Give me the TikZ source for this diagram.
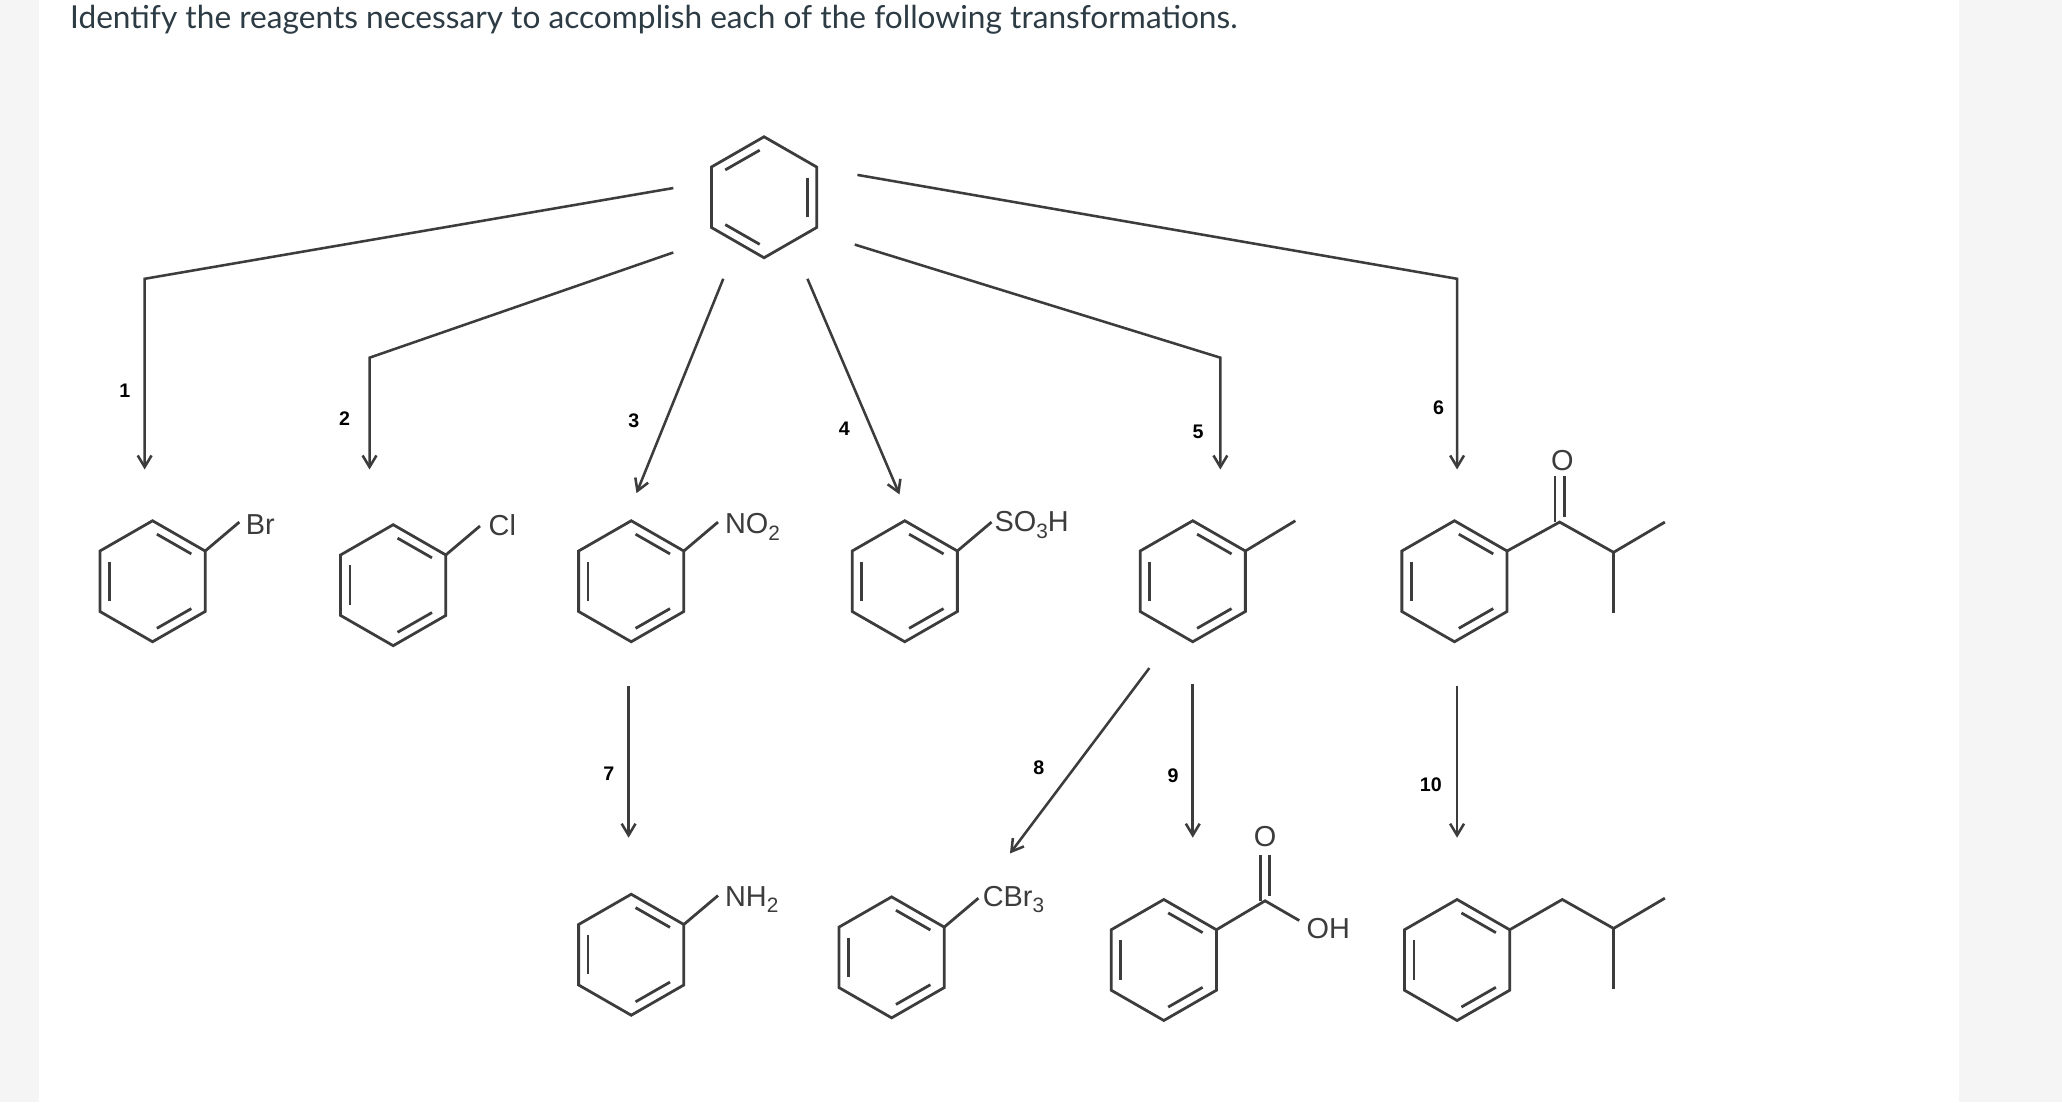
\documentclass[tikz,border=0pt]{standalone}
\usepackage{fontspec}
\setmainfont{Liberation Sans}
\newfontfamily\titlefont{Lato}
\usetikzlibrary{arrows.meta,calc}
\definecolor{ink}{HTML}{3C3C3C}
\definecolor{pagegray}{HTML}{F5F5F6}
\definecolor{titlecol}{HTML}{2D3B45}
\tikzset{
  bond/.style={draw=ink,line width=1.2pt,line join=miter},
  rxn/.style={draw=ink,line width=1.1pt,-{Straight Barb[length=5pt,width=6pt]}},
  lab/.style={text=ink,font=\fontsize{12.5}{14}\selectfont,inner sep=0pt},
  num/.style={text=black,font=\bfseries\fontsize{8.5}{10}\selectfont,inner sep=0pt},
}
\newcommand{\sbs}[1]{\raisebox{-0.45ex}{\fontsize{9}{10}\selectfont #1}}
\newcommand{\prodring}[2]{%
  \coordinate (#1) at #2;
  \begin{scope}[shift={#2}]
    \draw[bond] (0,-46) -- (40,-23) -- (40,23) -- (0,46) -- (-40,23) -- (-40,-23) -- cycle;
    \draw[bond] (3.3,-35.8) -- (29.5,-20.8);
    \draw[bond] (-32.8,-15) -- (-32.8,15);
    \draw[bond] (29.5,20.8) -- (3.3,35.8);
  \end{scope}}
\begin{document}
\begin{tikzpicture}[x=0.02cm,y=-0.02cm]
\fill[pagegray] (0,0) rectangle (1568,838);
\fill[white] (30,0) rectangle (1490,838);
\useasboundingbox (0,0) rectangle (1568,838);
\node[anchor=west,text=titlecol,font=\titlefont\fontsize{13.7}{16}\selectfont,inner sep=0pt] (title) at (53,15) {Identify the reagents necessary to accomplish each of the following transformations.};
% top benzene
\coordinate (top) at (581,150);
\begin{scope}[shift={(581,150)}]
  \draw[bond] (0,-46) -- (40,-23) -- (40,23) -- (0,46) -- (-40,23) -- (-40,-23) -- cycle;
  \draw[bond] (-29.5,-20.8) -- (-3.3,-35.8);
  \draw[bond] (32.8,-15) -- (32.8,15);
  \draw[bond] (-3.3,35.8) -- (-29.5,20.8);
\end{scope}
% products row 1
\prodring{r1}{(116,442)}
\draw[bond] ($(r1)+(40,-23)$) -- ++(26,-22);
\node[lab] (br) at (198,399) {Br};
\prodring{r2}{(299,445)}
\draw[bond] ($(r2)+(40,-23)$) -- ++(26,-22);
\node[lab] (cl) at (382,399) {Cl};
\prodring{r3}{(480,442)}
\draw[bond] ($(r3)+(40,-23)$) -- ++(26,-22);
\node[lab,anchor=west] (no2) at (551,401) {NO\sbs{2}};
\prodring{r4}{(688,442)}
\draw[bond] ($(r4)+(40,-23)$) -- ++(26,-22);
\node[lab,anchor=west] (so3h) at (756,399) {SO\sbs{3}H};
\prodring{r5}{(907,442)}
\draw[bond] ($(r5)+(40,-23)$) -- ++(38,-23);
\prodring{r6}{(1106,442)}
\coordinate (c6) at (1186,397);
\coordinate (ch6) at (1227,420);
\draw[bond] ($(r6)+(40,-23)$) -- (c6) -- (ch6) -- ++(39,-23);
\draw[bond] (ch6) -- ++(0,46);
\draw[bond] ($(c6)+(-3.5,0)$) -- ++(0,-35);
\draw[bond] ($(c6)+(3.5,-4)$) -- ++(0,-31);
\node[lab] (o6) at (1188,350) {O};
% products row 2
\prodring{r7}{(480,726)}
\draw[bond] ($(r7)+(40,-23)$) -- ++(26,-22);
\node[lab,anchor=west] (nh2) at (551,684) {NH\sbs{2}};
\prodring{r8}{(678,728)}
\draw[bond] ($(r8)+(40,-23)$) -- ++(26,-22);
\node[lab,anchor=west] (cbr3) at (747,684) {CBr\sbs{3}};
\prodring{r9}{(885,730)}
\coordinate (c9) at (962,685);
\draw[bond] ($(r9)+(40,-23)$) -- (c9) -- ++(26,15);
\draw[bond] ($(c9)+(-3.5,0)$) -- ++(0,-35);
\draw[bond] ($(c9)+(3.5,-4)$) -- ++(0,-31);
\node[lab] (o9) at (962,636) {O};
\node[lab] (oh9) at (1010,706) {OH};
\prodring{r10}{(1108,730)}
\coordinate (a10) at (1188,684);
\coordinate (b10) at (1227,706);
\draw[bond] ($(r10)+(40,-23)$) -- (a10) -- (b10) -- ++(39,-23);
\draw[bond] (b10) -- ++(0,46);
% reaction arrows
\coordinate (s1) at (512,143); \coordinate (k1) at (110,212); \coordinate (e1) at (110,357);
\draw[rxn] (s1) -- (k1) -- (e1);
\node[num] (n1) at (95,297) {1};
\coordinate (s2) at (512,192); \coordinate (k2) at (281,272); \coordinate (e2) at (281,357);
\draw[rxn] (s2) -- (k2) -- (e2);
\node[num] (n2) at (262,318) {2};
\coordinate (s3) at (550,212); \coordinate (e3) at (484,375);
\draw[rxn] (s3) -- (e3);
\node[num] (n3) at (482,320) {3};
\coordinate (s4) at (614,212); \coordinate (e4) at (684,376);
\draw[rxn] (s4) -- (e4);
\node[num] (n4) at (642,326) {4};
\coordinate (s5) at (650,186); \coordinate (k5) at (928,272); \coordinate (e5) at (928,357);
\draw[rxn] (s5) -- (k5) -- (e5);
\node[num] (n5) at (911,328) {5};
\coordinate (s6) at (652,133); \coordinate (k6) at (1108,212); \coordinate (e6) at (1108,357);
\draw[rxn] (s6) -- (k6) -- (e6);
\node[num] (n6) at (1094,310) {6};
\coordinate (s7) at (478,522); \coordinate (e7) at (478,637);
\draw[rxn] (s7) -- (e7);
\node[num] (n7) at (463,588) {7};
\coordinate (s8) at (874,508); \coordinate (e8) at (768,649);
\draw[rxn] (s8) -- (e8);
\node[num] (n8) at (790,584) {8};
\coordinate (s9) at (907,520); \coordinate (e9) at (907,637);
\draw[rxn] (s9) -- (e9);
\node[num] (n9) at (892,590) {9};
\coordinate (s10) at (1108,522); \coordinate (e10) at (1108,637);
\draw[rxn] (s10) -- (e10);
\node[num] (n10) at (1088,597) {10};
\end{tikzpicture}
\end{document}
